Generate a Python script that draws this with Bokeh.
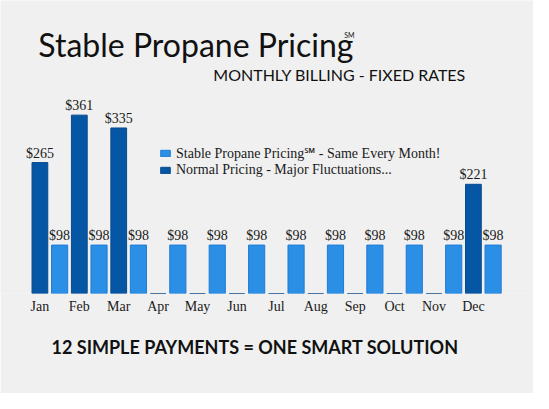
# Stable Propane Pricing - bars by month, rebuilt with bokeh
from bokeh.plotting import figure
from bokeh.models import Range1d, FixedTicker, Label, Legend, LegendItem, ColumnDataSource, Title
from bokeh.embed import file_html
from bokeh.resources import INLINE

# data
months = ["Jan", "Feb", "Mar", "Apr", "May", "Jun", "Jul", "Aug", "Sep", "Oct", "Nov", "Dec"]
normal = [265, 361, 335, 0, 0, 0, 0, 0, 0, 0, 0, 221]
stable = [98, 98, 98, 98, 98, 98, 98, 98, 98, 98, 98, 98]

idx = list(range(len(months)))
normal_src = ColumnDataSource(dict(
    x=idx,
    top=normal,
    label=["$%d" % v if v else "" for v in normal],
))
stable_src = ColumnDataSource(dict(
    x=[i + 0.5 for i in idx],
    top=stable,
    label=["$%d" % v for v in stable],
))

bg = "#f0f0f0"
serif = "Liberation Serif"
sans = "Lato"

p = figure(width=533, height=393, x_range=Range1d(-1.0, 12.525), y_range=Range1d(0, 593),
           output_backend="svg", toolbar_location=None, y_axis_location=None,
           min_border_left=0, min_border_right=0, min_border_top=0, min_border_bottom=100)
p.background_fill_color = bg
p.border_fill_color = bg
p.outline_line_color = None
p.grid.visible = False

r_normal = p.vbar(x="x", top="top", width=0.4, source=normal_src,
                  fill_color="#0557a5", line_color="#0b4a8c", line_width=1)
r_stable = p.vbar(x="x", top="top", width=0.41, source=stable_src,
                  fill_color="#2b8fe6", line_color="#1f7bd6", line_width=1)

for src in (normal_src, stable_src):
    p.text(x="x", y="top", text="label", source=src, text_align="center",
           text_baseline="bottom", y_offset=-2, text_font=serif,
           text_font_size="14px", text_color="#1a1a1a")

# month labels on the dark bar of each pair
p.xaxis.ticker = FixedTicker(ticks=idx)
p.xaxis.major_label_overrides = {i: m for i, m in zip(idx, months)}
p.xaxis.axis_line_color = None
p.xaxis.major_tick_line_color = None
p.xaxis.minor_tick_line_color = None
p.xaxis.major_tick_out = 0
p.xaxis.major_tick_in = 0
p.xaxis.major_label_standoff = 5
p.xaxis.major_label_text_font = serif
p.xaxis.major_label_text_font_size = "14px"
p.xaxis.major_label_text_color = "#1a1a1a"

legend = Legend(items=[
    LegendItem(label="Stable Propane Pricing\u2120 - Same Every Month!", renderers=[r_stable]),
    LegendItem(label="Normal Pricing - Major Fluctuations...", renderers=[r_normal]),
], location=(159, 115))
legend.background_fill_alpha = 0
legend.border_line_color = None
legend.padding = 0
legend.margin = 0
legend.spacing = 0
legend.glyph_width = 12
legend.glyph_height = 8
legend.label_height = 16
legend.label_standoff = 5
legend.label_text_font = serif
legend.label_text_font_size = "14px"
legend.label_text_color = "#1a1a1a"
legend.label_text_baseline = "middle"
p.add_layout(legend)

# headings
p.add_layout(Label(x=-0.04, y=504, text="Stable Propane Pricing", text_font=sans,
                   text_font_size="32px", text_color="#111111", text_baseline="alphabetic"))
p.add_layout(Label(x=7.72, y=532, text="SM", text_font=sans, text_font_size="7px",
                   text_color="#111111", text_baseline="top"))
p.add_layout(Label(x=4.40, y=443, text="MONTHLY BILLING - FIXED RATES", text_font=sans,
                   text_font_size="16px", text_color="#111111", text_baseline="alphabetic"))

slogan = Title(text="12 SIMPLE PAYMENTS = ONE SMART SOLUTION", align="left", offset=51,
               standoff=35, text_font=sans, text_font_style="bold", text_font_size="18px",
               text_color="#111111")
p.add_layout(slogan, "below")

open("out.html", "w").write(file_html(p, INLINE))
